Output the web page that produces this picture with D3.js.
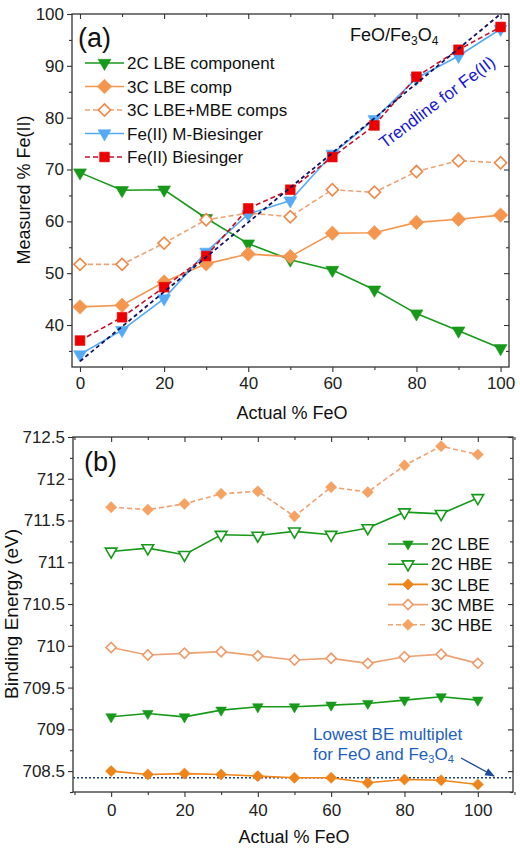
<!DOCTYPE html>
<html>
<head>
<meta charset="utf-8">
<script src="https://cdn.jsdelivr.net/npm/d3@7"></script>
<style>
  body { margin: 0; background: #fff; }
  text { font-family: "Liberation Sans", Arial, sans-serif; }
</style>
</head>
<body>
<div id="chart"></div>
<script>
// ---- data, panel (a) ----
const pctFeO = [0, 10, 20, 30, 40, 50, 60, 70, 80, 90, 100];
const lbe2C = [69.4, 66.0, 66.1, 60.6, 55.7, 52.6, 50.6, 46.8, 42.2, 38.9, 35.5];
const lbe3C = [43.5, 43.8, 48.3, 51.8, 53.7, 53.2, 57.7, 57.8, 59.8, 60.4, 61.2];
const lbeMbe3C = [51.7, 51.7, 55.8, 60.3, 61.6, 60.9, 66.1, 65.6, 69.6, 71.7, 71.3];
const mBiesinger = [34.3, 39.0, 45.1, 54.1, 61.4, 64.0, 73.0, 79.7, 87.6, 91.9, 97.1];
const biesinger = [37.0, 41.5, 47.3, 53.3, 62.5, 66.1, 72.4, 78.5, 87.9, 93.1, 97.5];
const trendX = [0, 100];
const trendY = [33, 100];

// ---- data, panel (b) ----
const be2CLBE = [709.15, 709.19, 709.15, 709.23, 709.27, 709.27, 709.29, 709.31, 709.35, 709.39, 709.35];
const be2CHBE = [711.13, 711.17, 711.09, 711.33, 711.32, 711.37, 711.33, 711.41, 711.60, 711.58, 711.77];
const be3CLBE = [708.50, 708.46, 708.47, 708.46, 708.44, 708.42, 708.42, 708.36, 708.40, 708.39, 708.34];
const be3CMBE = [709.98, 709.89, 709.91, 709.93, 709.88, 709.83, 709.85, 709.79, 709.87, 709.90, 709.79];
const be3CHBE = [711.66, 711.63, 711.70, 711.82, 711.85, 711.55, 711.90, 711.84, 712.16, 712.39, 712.29];
const lowestBE = 708.42;

// ---- ticks ----
const ticksXa = [0, 20, 40, 60, 80, 100];
const minorXa = [10, 30, 50, 70, 90];
const ticksYa = [40, 50, 60, 70, 80, 90, 100];
const minorYa = [35, 45, 55, 65, 75, 85, 95];
const ticksXb = [0, 20, 40, 60, 80, 100];
const minorXb = [-10, 10, 30, 50, 70, 90, 110];
const ticksYb = [708.5, 709, 709.5, 710, 710.5, 711, 711.5, 712, 712.5];
const minorYb = [708.25, 708.75, 709.25, 709.75, 710.25, 710.75, 711.25, 711.75, 712.25];

const GREEN = "#17991a", ORANGE = "#f5964f", ORANGE2 = "#ef8418", LORANGE = "#eda274",
      BLUE = "#55aaf6", RED = "#ec0000", DRED = "#c4102c", NAVY = "#12125e";

const svg = d3.select("#chart").append("svg")
  .attr("width", 520).attr("height", 852);
svg.append("rect").attr("width", 520).attr("height", 852).attr("fill", "#fff");

function makePanel(box, xDom, yDom, tx, mx, ty, my, fmtY, padX) {
  const x = d3.scaleLinear().domain(xDom).range([box.l, box.r]);
  const y = d3.scaleLinear().domain(yDom).range([box.b, box.t]);
  const g = svg.append("g");

  const axes = [
    [d3.axisBottom(x), `translate(0,${box.b})`, 5, true, tx],
    [d3.axisBottom(x), `translate(0,${box.b})`, 3, false, mx],
    [d3.axisTop(x), `translate(0,${box.t})`, -5, false, tx],
    [d3.axisTop(x), `translate(0,${box.t})`, -3, false, mx],
    [d3.axisLeft(y), `translate(${box.l},0)`, 5, true, ty],
    [d3.axisLeft(y), `translate(${box.l},0)`, 3, false, my],
    [d3.axisRight(y), `translate(${box.r},0)`, -5, false, ty],
    [d3.axisRight(y), `translate(${box.r},0)`, -3, false, my]
  ];
  axes.forEach(([ax, tr, size, labels, vals], i) => {
    ax.tickValues(vals).tickSize(size).tickSizeOuter(0)
      .tickPadding(i === 0 ? padX : 3)
      .tickFormat(labels ? (i === 4 ? fmtY : d3.format("d")) : "");
    const a = g.append("g").attr("transform", tr).call(ax);
    a.select(".domain").remove();
    a.selectAll("line").attr("stroke", "#333").attr("stroke-width", 1.1);
    a.selectAll("text").attr("font-size", 17).attr("fill", "#222")
      .style("font-family", '"Liberation Sans", Arial, sans-serif');
  });
  g.append("rect").attr("x", box.l).attr("y", box.t)
    .attr("width", box.r - box.l).attr("height", box.b - box.t)
    .attr("fill", "none").attr("stroke", "#333").attr("stroke-width", 1.3);
  const plot = g.append("g");
  return { x, y, g, plot };
}

const shapes = {
  tri: { type: d3.symbolTriangle, rot: 180 },
  dia: { type: d3.symbolSquare, rot: 45 },
  sq: { type: d3.symbolSquare, rot: 0 }
};

function markerPath(shape, size) {
  return d3.symbol().type(shapes[shape].type).size(size)();
}

function drawLine(p, xs, ys, s) {
  const line = d3.line().x(d => p.x(d[0])).y(d => p.y(d[1]));
  p.plot.append("path").datum(xs.map((v, i) => [v, ys[i]])).attr("d", line)
    .attr("fill", "none").attr("stroke", s.line)
    .attr("stroke-width", s.lw || 1.6)
    .attr("stroke-dasharray", s.dash || null);
}

function drawMarkers(p, xs, ys, s) {
  p.plot.append("g").selectAll("path").data(xs.map((v, i) => [v, ys[i]])).join("path")
    .attr("d", markerPath(s.shape, s.size))
    .attr("transform", d => `translate(${p.x(d[0])},${p.y(d[1])}) rotate(${shapes[s.shape].rot})`)
    .attr("fill", s.open ? "#fff" : s.fill)
    .attr("stroke", s.stroke || s.fill)
    .attr("stroke-width", s.open ? 1.6 : 0.6);
}

function drawSeries(p, xs, ys, s) {
  drawLine(p, xs, ys, s);
  if (s.shape) drawMarkers(p, xs, ys, s);
}

function legendRow(gx, y, s, label, x0, x1, fs) {
  svg.append("line").attr("x1", x0).attr("x2", x1).attr("y1", y).attr("y2", y)
    .attr("stroke", s.line).attr("stroke-width", s.lw || 1.6)
    .attr("stroke-dasharray", s.dash || null);
  svg.append("path").attr("d", markerPath(s.shape, s.size))
    .attr("transform", `translate(${(x0 + x1) / 2},${y}) rotate(${shapes[s.shape].rot})`)
    .attr("fill", s.open ? "#fff" : s.fill)
    .attr("stroke", s.stroke || s.fill)
    .attr("stroke-width", s.open ? 1.6 : 0.6);
  svg.append("text").attr("x", gx).attr("y", y).attr("dy", "0.36em")
    .attr("font-size", fs).attr("fill", "#111").text(label);
}

// ================= panel (a) =================
const pa = makePanel({ l: 72, r: 509, t: 14, b: 367 }, [-1.9, 102], [31.9, 100],
  ticksXa, minorXa, ticksYa, minorYa, d3.format("d"), 5);

const stA = {
  c2: { line: GREEN, fill: GREEN, shape: "tri", size: 72 },
  c3: { line: ORANGE, fill: ORANGE, shape: "dia", size: 105 },
  c3m: { line: LORANGE, fill: ORANGE, stroke: "#f08746", shape: "dia", size: 74, open: true, dash: "5,3" },
  mb: { line: BLUE, fill: BLUE, shape: "tri", size: 72 },
  bs: { line: DRED, fill: RED, shape: "sq", size: 95, dash: "5,3" }
};
drawSeries(pa, pctFeO, lbe2C, stA.c2);
drawSeries(pa, pctFeO, lbe3C, stA.c3);
drawSeries(pa, pctFeO, lbeMbe3C, stA.c3m);
drawSeries(pa, pctFeO, mBiesinger, stA.mb);
drawSeries(pa, pctFeO, biesinger, stA.bs);
drawLine(pa, trendX, trendY, { line: NAVY, dash: "4,3", lw: 1.8 });

const legA = [
  [stA.c2, "2C LBE component"],
  [stA.c3, "3C LBE comp"],
  [stA.c3m, "3C LBE+MBE comps"],
  [stA.mb, "Fe(II) M-Biesinger"],
  [stA.bs, "Fe(II) Biesinger"]
];
legA.forEach(([s, label], i) => legendRow(127, 63 + i * 23.5, s, label, 85, 124, 17));

svg.append("text").attr("x", 78).attr("y", 47).attr("font-size", 27).attr("fill", "#111").text("(a)");

const feo = svg.append("text").attr("x", 350).attr("y", 41).attr("font-size", 18).attr("fill", "#111");
feo.append("tspan").text("FeO/Fe");
feo.append("tspan").attr("font-size", 12).attr("dy", 4).text("3");
feo.append("tspan").attr("dy", -4).text("O");
feo.append("tspan").attr("font-size", 12).attr("dy", 4).text("4");

svg.append("text").attr("transform", "translate(437,102) rotate(-37)")
  .attr("text-anchor", "middle").attr("dy", "0.35em")
  .attr("font-size", 17).attr("fill", "#1616d8").text("Trendline for Fe(II)");

svg.append("text").attr("x", 292).attr("y", 419).attr("text-anchor", "middle")
  .attr("font-size", 18).attr("fill", "#111").text("Actual % FeO");
svg.append("text").attr("transform", "translate(30,190) rotate(-90)")
  .attr("text-anchor", "middle").attr("font-size", 18).attr("fill", "#111").text("Measured % Fe(II)");

// ================= panel (b) =================
const pb = makePanel({ l: 73, r: 513, t: 437, b: 792 }, [-10.4, 109.6], [708.25, 712.5],
  ticksXb, minorXb, ticksYb, minorYb, d => (d % 1 === 0 ? d3.format("d")(d) : d3.format(".1f")(d)), 7);

pb.plot.append("line")
  .attr("x1", pb.x.range()[0]).attr("x2", pb.x.range()[1])
  .attr("y1", pb.y(lowestBE)).attr("y2", pb.y(lowestBE))
  .attr("stroke", "#1d3f8f").attr("stroke-width", 1.5).attr("stroke-dasharray", "2,2");

const stB = {
  l2: { line: GREEN, fill: GREEN, shape: "tri", size: 48 },
  h2: { line: GREEN, fill: GREEN, stroke: GREEN, shape: "tri", size: 58, open: true },
  l3: { line: ORANGE2, fill: ORANGE2, shape: "dia", size: 62 },
  m3: { line: LORANGE, fill: LORANGE, stroke: "#ee9a68", shape: "dia", size: 52, open: true },
  h3: { line: LORANGE, fill: "#f5a262", shape: "dia", size: 62, dash: "5,3" }
};
drawSeries(pb, pctFeO, be3CHBE, stB.h3);
drawSeries(pb, pctFeO, be2CHBE, stB.h2);
drawSeries(pb, pctFeO, be3CMBE, stB.m3);
drawSeries(pb, pctFeO, be2CLBE, stB.l2);
drawSeries(pb, pctFeO, be3CLBE, stB.l3);

const legB = [
  [stB.l2, "2C LBE"],
  [stB.h2, "2C HBE"],
  [stB.l3, "3C LBE"],
  [stB.m3, "3C MBE"],
  [stB.h3, "3C HBE"]
];
legB.forEach(([s, label], i) => legendRow(431, 544 + i * 20.2, s, label, 388, 428, 17));

svg.append("text").attr("x", 84).attr("y", 471).attr("font-size", 27).attr("fill", "#111").text("(b)");

const noteColor = "#1f5fbf";
svg.append("text").attr("x", 313).attr("y", 740).attr("font-size", 17).attr("fill", noteColor)
  .text("Lowest BE multiplet");
const note2 = svg.append("text").attr("x", 313).attr("y", 760).attr("font-size", 17).attr("fill", noteColor);
note2.append("tspan").text("for FeO and Fe");
note2.append("tspan").attr("font-size", 11).attr("dy", 3).text("3");
note2.append("tspan").attr("dy", -3).text("O");
note2.append("tspan").attr("font-size", 11).attr("dy", 3).text("4");

svg.append("defs").append("marker").attr("id", "arrow")
  .attr("viewBox", "0 0 10 10").attr("refX", 9).attr("refY", 5)
  .attr("markerWidth", 7).attr("markerHeight", 7).attr("orient", "auto")
  .append("path").attr("d", "M0,1 L10,5 L0,9 Z").attr("fill", "#1d4c9c");
svg.append("line").attr("x1", 461).attr("y1", 758).attr("x2", 494).attr("y2", 776)
  .attr("stroke", "#1d4c9c").attr("stroke-width", 1.4).attr("marker-end", "url(#arrow)");

svg.append("text").attr("x", 294).attr("y", 843).attr("text-anchor", "middle")
  .attr("font-size", 18).attr("fill", "#111").text("Actual % FeO");
svg.append("text").attr("transform", "translate(18,614) rotate(-90)")
  .attr("text-anchor", "middle").attr("font-size", 19).attr("fill", "#111").text("Binding Energy (eV)");
</script>
</body>
</html>
